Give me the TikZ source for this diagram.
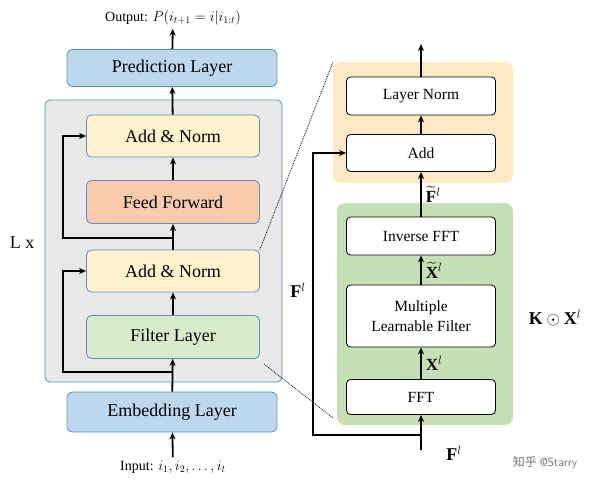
\documentclass[tikz,border=0pt]{standalone}
\usepackage{amsmath, amssymb}
\usepackage{fontspec}
\setmainfont{Liberation Serif}
\newfontfamily\cjk{Noto Sans CJK SC}
\usetikzlibrary{positioning,arrows.meta}
\definecolor{predblue}{HTML}{BDD7EE}
\definecolor{edgeblue}{HTML}{5B8DC9}
\definecolor{normyellow}{HTML}{FFF2CC}
\definecolor{ffdorange}{HTML}{F8CBAD}
\definecolor{filtgreen}{HTML}{D8EBCB}
\definecolor{panelgreen}{HTML}{C5E0B4}
\definecolor{panelyellow}{HTML}{FDE9C4}
\tikzset{
  blk/.style={draw=edgeblue, rounded corners=5pt, line width=0.8pt, align=center, inner sep=0pt},
  wblk/.style={draw=black, fill=white, rounded corners=4pt, line width=0.8pt, minimum width=149pt, align=center,
    inner sep=0pt, font=\fontsize{15.5}{17}\selectfont},
  flow/.style={-{Stealth[length=7pt,width=6pt]}, line width=1.8pt},
  lbl/.style={right=4pt, inner sep=0pt, font=\fontsize{17}{19}\selectfont},
}
\begin{document}
\begin{tikzpicture}[x=1pt, y=-1pt, font=\fontsize{18}{20}\selectfont]
  \useasboundingbox (0,0) rectangle (600,490);

  % left stack: shared panel
  \draw[blk, fill=black!9] (45,100) rectangle (282,382);
  \node[blk, fill=predblue, minimum width=210pt, minimum height=37pt] (pred) at (172,68) {Prediction Layer};
  \node[blk, fill=normyellow, minimum width=173pt, minimum height=42pt] (addnorm1) at (173,136) {Add \& Norm};
  \node[blk, fill=ffdorange, minimum width=173pt, minimum height=43pt] (ffd) at (173,202) {Feed Forward};
  \node[blk, fill=normyellow, minimum width=173pt, minimum height=42pt] (addnorm2) at (173,271) {Add \& Norm};
  \node[blk, fill=filtgreen, minimum width=173pt, minimum height=43pt] (filter) at (173,337) {Filter Layer};
  \node[blk, fill=predblue, minimum width=210pt, minimum height=40pt] (embed) at (172,412) {Embedding Layer};
  \node (output) at (173,18) {\fontsize{14}{16}\selectfont Output: $P(i_{t+1}=i|i_{1:t})$};
  \node (input) at (173,467) {\fontsize{14}{16}\selectfont Input: $i_1, i_2, \ldots, i_t$};
  \node (lx) at (22,243) {L x};

  % main flow
  \draw[flow] (input) -- (embed);
  \draw[flow] (embed) -- (filter);
  \draw[flow] (filter) -- (addnorm2);
  \draw[flow] (addnorm2) -- (ffd);
  \draw[flow] (ffd) -- (addnorm1);
  \draw[flow] (addnorm1) -- (pred);
  \draw[flow] (pred) -- (output);

  % residual links
  \coordinate (r1) at (173,372);
  \coordinate (r2) at (173,238);
  \draw[flow] (r1) -| (63,271) -- (addnorm2.west);
  \draw[flow] (r2) -| (63,136) -- (addnorm1.west);

  % right: filter-enhanced block
  \draw[draw=none, fill=panelyellow, rounded corners=8pt] (333,62) rectangle (513,183);
  \draw[draw=none, fill=panelgreen, rounded corners=8pt] (337,203) rectangle (513,425);
  \node[wblk, minimum height=38pt] (lnorm) at (421,96) {Layer Norm};
  \node[wblk, minimum height=37pt] (add) at (421,153) {Add};
  \node[wblk, minimum height=38pt] (ifft) at (421,236) {Inverse FFT};
  \node[wblk, minimum height=62pt] (mlf) at (421,316) {Multiple\\[3pt] Learnable Filter};
  \node[wblk, minimum height=35pt] (fft) at (421,397) {FFT};
  \coordinate (fin) at (421,450);
  \coordinate (fout) at (421,44);
  \node (fl) at (454,453) {$\mathbf{F}^l$};
  \node (kx) at (555,318) {$\mathbf{K}\odot\mathbf{X}^l$};
  \node (fres) at (298,290) {$\mathbf{F}^l$};

  \draw[flow] (fin) -- (fft);
  \draw[flow] (fft) -- node[lbl] {$\mathbf{X}^l$} (mlf);
  \draw[flow] (mlf) -- node[lbl] {$\widetilde{\mathbf{X}}^l$} (ifft);
  \draw[flow] (ifft) -- node[lbl] {$\widetilde{\mathbf{F}}^l$} (add);
  \draw[flow] (add) -- (lnorm);
  \draw[flow] (lnorm) -- (fout);
  \coordinate (fsplit) at (421,435);
  \draw[flow] (fsplit) -| (313,153) -- (add.west);

  % zoom guides
  \draw[densely dotted, line width=0.8pt] (addnorm2.north east) -- (333,62);
  \draw[densely dotted, line width=0.8pt] (264,364) -- (333,418);

  % watermark
  \node[text=black!55] (wm) at (545,463) {\fontsize{12}{14}\selectfont{\cjk 知乎} \textsf{@Starry}};
\end{tikzpicture}
\end{document}
